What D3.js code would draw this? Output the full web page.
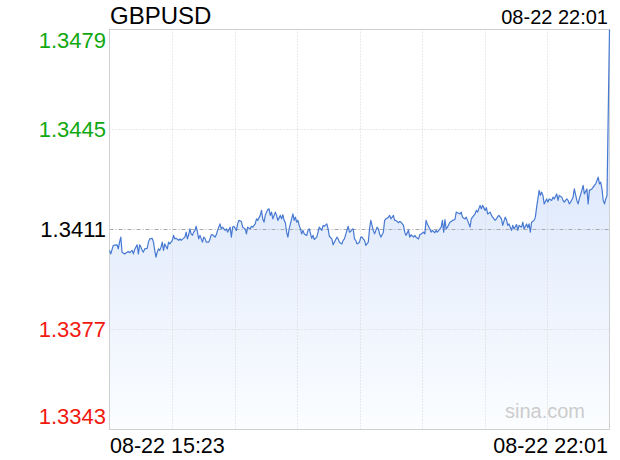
<!DOCTYPE html>
<html>
<head>
<meta charset="utf-8">
<title>GBPUSD</title>
<script src="https://cdn.jsdelivr.net/npm/d3@7/dist/d3.min.js"></script>
<style>
    html, body { margin: 0; padding: 0; background: #fff; }
    #chart text { font-family: "Liberation Sans", Arial, Helvetica, sans-serif; }
</style>
</head>
<body>
<div id="chart"></div>
<script>
// minutes after 08-22 15:23, and the price read at that minute
var minutes = [0, 1, 3, 6, 7, 8, 9, 10, 12, 14, 15, 16, 18, 19, 20, 22, 23, 24, 25, 26, 27, 28, 30, 31, 32, 34, 35, 36, 37, 38, 39, 40, 41, 42, 43, 44, 46, 47, 48, 50, 51, 52, 53, 55, 56, 57, 60, 61, 62, 63, 64, 65, 66, 67, 68, 69, 70, 71, 72, 74, 75, 76, 77, 79, 80, 81, 82, 84, 85, 86, 88, 89, 90, 92, 93, 94, 96, 97, 98, 99,
    101, 102, 103, 105, 106, 108, 109, 110, 112, 113, 114, 116, 117, 118, 120, 121, 122, 123, 124, 125, 126, 127, 128, 129, 130, 132, 133, 134, 136, 137, 138, 139, 140, 141, 142, 143, 145, 146, 147, 148, 149, 150, 151, 152, 153, 154, 155, 157, 158, 159, 161, 162, 163, 165, 166, 167, 169, 170, 171, 173, 174, 175, 177, 178, 179, 181, 182, 183, 185, 186, 187, 189, 190, 191, 192, 193, 194, 195, 196, 197, 199,
    200, 201, 202, 203, 204, 206, 207, 208, 210, 211, 212, 213, 214, 215, 216, 218, 219, 220, 222, 223, 224, 226, 227, 228, 230, 231, 232, 234, 235, 236, 238, 239, 240, 242, 243, 244, 246, 247, 248, 250, 251, 252, 253, 255, 256, 257, 259, 260, 261, 263, 264, 265, 266, 267, 268, 269, 271, 272, 273, 275, 276, 277, 279, 280, 281, 283, 284, 285, 287, 288, 289, 291, 292, 293, 295, 296, 297, 299,
    300, 301, 303, 304, 305, 307, 308, 309, 310, 312, 313, 315, 316, 317, 318, 320, 321, 322, 324, 325, 326, 328, 329, 330, 332, 333, 334, 335, 336, 338, 339, 340, 341, 342, 343, 344, 345, 346, 348, 349, 350, 352, 353, 354, 356, 357, 358, 360, 361, 362, 364, 365, 366, 367, 369, 370, 372, 373, 374, 376, 377, 378, 380, 381, 382, 384, 385, 386, 387, 389, 390, 391, 392, 393, 394, 395, 396, 398];

var prices = [1.34039, 1.34027, 1.34056, 1.34058, 1.34044, 1.34067, 1.34084, 1.34033, 1.34027, 1.34033, 1.34035, 1.34031, 1.34039, 1.34027, 1.34042, 1.34058, 1.34027, 1.34058, 1.34050, 1.34039, 1.34033, 1.34044, 1.34046, 1.34067, 1.34078, 1.34080, 1.34067, 1.34039, 1.34016, 1.34033, 1.34044, 1.34039, 1.34050, 1.34067, 1.34039, 1.34061, 1.34044, 1.34067, 1.34061, 1.34073, 1.34090, 1.34078, 1.34080, 1.34073, 1.34078, 1.34073, 1.34084, 1.34101, 1.34078, 1.34092, 1.34112, 1.34095, 1.34090, 1.34101, 1.34107, 1.34121, 1.34101, 1.34078, 1.34090, 1.34067, 1.34084, 1.34080, 1.34067, 1.34067, 1.34078, 1.34092, 1.34092, 1.34084, 1.34092, 1.34107, 1.34129, 1.34112, 1.34118, 1.34107, 1.34112, 1.34101, 1.34118, 1.34084, 1.34118, 1.34121,
    1.34107, 1.34129, 1.34141, 1.34137, 1.34118, 1.34112, 1.34095, 1.34118, 1.34112, 1.34121, 1.34118, 1.34129, 1.34146, 1.34141, 1.34158, 1.34175, 1.34146, 1.34135, 1.34158, 1.34169, 1.34178, 1.34180, 1.34158, 1.34169, 1.34146, 1.34169, 1.34158, 1.34141, 1.34158, 1.34146, 1.34160, 1.34141, 1.34133, 1.34101, 1.34084, 1.34112, 1.34146, 1.34163, 1.34141, 1.34152, 1.34135, 1.34141, 1.34124, 1.34112, 1.34095, 1.34107, 1.34095, 1.34090, 1.34107, 1.34112, 1.34080, 1.34090, 1.34076, 1.34084, 1.34101, 1.34118, 1.34107, 1.34124, 1.34121, 1.34129, 1.34112, 1.34087, 1.34078, 1.34058, 1.34067, 1.34084, 1.34078, 1.34067, 1.34061, 1.34073, 1.34078, 1.34107, 1.34121, 1.34101, 1.34103, 1.34110, 1.34112, 1.34078, 1.34073, 1.34061, 1.34067,
    1.34084, 1.34084, 1.34078, 1.34073, 1.34056, 1.34067, 1.34112, 1.34141, 1.34107, 1.34095, 1.34107, 1.34118, 1.34112, 1.34095, 1.34084, 1.34101, 1.34141, 1.34146, 1.34152, 1.34158, 1.34146, 1.34158, 1.34141, 1.34141, 1.34133, 1.34137, 1.34135, 1.34124, 1.34101, 1.34090, 1.34107, 1.34084, 1.34092, 1.34084, 1.34090, 1.34084, 1.34078, 1.34092, 1.34095, 1.34101, 1.34095, 1.34141, 1.34129, 1.34112, 1.34101, 1.34107, 1.34099, 1.34107, 1.34101, 1.34112, 1.34118, 1.34141, 1.34101, 1.34144, 1.34112, 1.34118, 1.34135, 1.34137, 1.34141, 1.34144, 1.34169, 1.34167, 1.34163, 1.34169, 1.34152, 1.34146, 1.34152, 1.34141, 1.34118, 1.34146, 1.34152, 1.34163, 1.34175, 1.34169, 1.34192, 1.34180, 1.34192, 1.34175,
    1.34184, 1.34163, 1.34169, 1.34158, 1.34152, 1.34141, 1.34146, 1.34154, 1.34158, 1.34146, 1.34124, 1.34152, 1.34143, 1.34124, 1.34129, 1.34107, 1.34124, 1.34112, 1.34127, 1.34107, 1.34124, 1.34118, 1.34135, 1.34112, 1.34129, 1.34116, 1.34129, 1.34101, 1.34135, 1.34141, 1.34152, 1.34186, 1.34214, 1.34243, 1.34226, 1.34237, 1.34226, 1.34197, 1.34214, 1.34203, 1.34214, 1.34209, 1.34220, 1.34214, 1.34231, 1.34209, 1.34226, 1.34220, 1.34209, 1.34203, 1.34214, 1.34209, 1.34197, 1.34203, 1.34220, 1.34248, 1.34209, 1.34197, 1.34214, 1.34243, 1.34260, 1.34231, 1.34248, 1.34197, 1.34243, 1.34248, 1.34254, 1.34260, 1.34265, 1.34288, 1.34265, 1.34271, 1.34248, 1.34209, 1.34197, 1.34214, 1.34225, 1.3479];

var yTicks = [1.3479, 1.3445, 1.3411, 1.3377, 1.3343];
var prevClose = 1.3411;
var timeLabels = ["08-22 15:23", "08-22 22:01"];
var symbol = "GBPUSD";
var lastTime = "08-22 22:01";

var width = 620, height = 460;
var plotL = 109.5, plotR = 609.5, plotT = 29.5, plotB = 429.5;

var svg = d3.select("#chart").append("svg")
    .attr("width", width)
    .attr("height", height);

var x = d3.scaleLinear().domain([0, 398]).range([plotL, plotR]);
var y = d3.scaleLinear().domain([d3.min(yTicks), d3.max(yTicks)]).range([plotB, plotT]);

var data = minutes.map(function (m, i) {
    return {m: m, v: prices[i]};
});

// area gradient
var grad = svg.append("defs").append("linearGradient")
    .attr("id", "areaFill")
    .attr("gradientUnits", "userSpaceOnUse")
    .attr("x1", 0).attr("y1", plotT)
    .attr("x2", 0).attr("y2", plotB);
grad.append("stop").attr("offset", 0).style("stop-color", "#cfdefa");
grad.append("stop").attr("offset", 1).style("stop-color", "#fbfdff");

var area = d3.area()
    .x(function (d) { return x(d.m); })
    .y0(plotB)
    .y1(function (d) { return y(d.v); });

svg.append("path")
    .datum(data)
    .attr("d", area)
    .attr("fill", "url(#areaFill)");

// vertical grid, 8 equal parts
var cols = d3.scaleLinear().domain([0, 8]).range([plotL, plotR]);
svg.append("g").selectAll("line")
    .data(d3.range(1, 8))
    .enter().append("line")
    .attr("x1", function (d) { return Math.round(cols(d)) + 0.5; })
    .attr("x2", function (d) { return Math.round(cols(d)) + 0.5; })
    .attr("y1", plotT)
    .attr("y2", plotB)
    .attr("stroke", "#d4d4d4")
    .attr("stroke-dasharray", "1,2");

// horizontal grid
svg.append("g").selectAll("line")
    .data(yTicks.slice(1, -1))
    .enter().append("line")
    .attr("x1", plotL)
    .attr("x2", plotR)
    .attr("y1", function (d) { return y(d); })
    .attr("y2", function (d) { return y(d); })
    .attr("stroke", function (d) { return d === prevClose ? "#aaa" : "#d4d4d4"; })
    .attr("stroke-dasharray", function (d) { return d === prevClose ? "4,2,1,2" : "1,2"; });

// frame
svg.append("rect")
    .attr("x", plotL)
    .attr("y", plotT)
    .attr("width", plotR - plotL)
    .attr("height", plotB - plotT)
    .attr("fill", "none")
    .attr("stroke", "#d0d0d0");

var line = d3.line()
    .x(function (d) { return x(d.m); })
    .y(function (d) { return y(d.v); });

svg.append("path")
    .datum(data)
    .attr("d", line)
    .attr("fill", "none")
    .attr("stroke", "#4779d2")
    .attr("stroke-width", 1.2)
    .attr("stroke-linejoin", "round");

// y labels: green above previous close, red below
svg.append("g").selectAll("text")
    .data(yTicks)
    .enter().append("text")
    .attr("x", 106)
    .attr("y", function (d, i) {
        if (i === 0) return y(d) + 18;
        if (i === yTicks.length - 1) return y(d) - 6;
        return y(d) + 7.5;
    })
    .attr("text-anchor", "end")
    .style("font-size", "22px")
    .style("fill", function (d) {
        if (d > prevClose) return "#10a810";
        if (d < prevClose) return "#f2190f";
        return "#000";
    })
    .text(function (d) { return d.toFixed(4); });

svg.append("text")
    .attr("x", 110)
    .attr("y", 24)
    .style("font-size", "24px")
    .style("fill", "#000")
    .text(symbol);

svg.append("text")
    .attr("x", 608)
    .attr("y", 24)
    .attr("text-anchor", "end")
    .style("font-size", "20px")
    .style("fill", "#000")
    .text(lastTime);

svg.append("text")
    .attr("x", 110)
    .attr("y", 453)
    .style("font-size", "21.5px")
    .style("fill", "#000")
    .text(timeLabels[0]);

svg.append("text")
    .attr("x", 608)
    .attr("y", 453)
    .attr("text-anchor", "end")
    .style("font-size", "21.5px")
    .style("fill", "#000")
    .text(timeLabels[1]);

// watermark
svg.append("text")
    .attr("x", 585)
    .attr("y", 418)
    .attr("text-anchor", "end")
    .style("font-size", "20px")
    .style("fill", "#cccccc")
    .text("sina.com");
</script>
</body>
</html>
